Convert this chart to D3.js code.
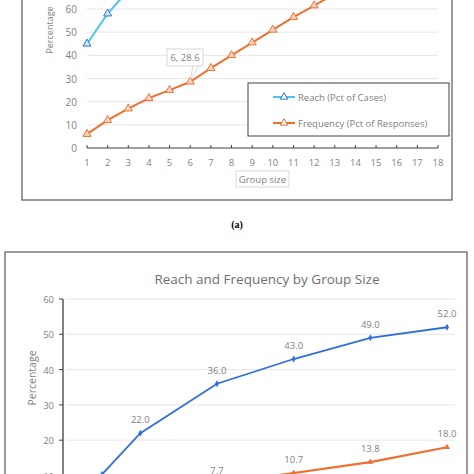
<!DOCTYPE html>
<html><head><meta charset="utf-8">
<script src="https://cdn.jsdelivr.net/npm/d3@7"></script>
<style>body{margin:0;background:#fff}</style>
</head><body><div id="viz"></div>
<script>
// chart (a)
const groupSizes = d3.range(1, 19);
const reachA = [45, 58, 68, 76];
const freqA = [6, 12, 17, 21.5, 25, 28.6, 34.5, 40, 45.5, 51, 56.5, 61.5, 66.5];
const yTicksA = [0, 10, 20, 30, 40, 50, 60];
// chart (b)
const sizesB = [1, 2, 4, 6, 8, 10];
const reachB = [10.3, 22.0, 36.0, 43.0, 49.0, 52.0];
const freqB = [3.5, 5.0, 7.7, 10.7, 13.8, 18.0];
const yTicksB = [10, 20, 30, 40, 50, 60];

const gray = "#7f7f7f", font = "Open Sans, Liberation Sans, sans-serif";
const svg = d3.select("#viz").append("svg").attr("width", 474).attr("height", 474)
  .style("font-family", font);

// ===== (a) =====
const xA = d3.scaleLinear().domain([1, 18]).range([87, 438]);
const yA = d3.scaleLinear().domain([0, 60]).range([148, 9]);
svg.append("rect").attr("x", 22).attr("y", -5).attr("width", 430).attr("height", 205)
  .attr("fill", "none").attr("stroke", "#595959").attr("stroke-width", 1.2);
const gA = svg.append("g");
gA.selectAll(".grid").data(yTicksA.slice(1)).join("line")
  .attr("x1", 87).attr("x2", 438).attr("y1", yA).attr("y2", yA).attr("stroke", "#e6e6e6");
gA.selectAll(".yl").data(yTicksA).join("text").attr("x", 77).attr("y", d => yA(d) + 4)
  .attr("text-anchor", "end").attr("font-size", 10).attr("fill", gray).text(d => d);
gA.append("line").attr("x1", 87).attr("x2", 438).attr("y1", 148).attr("y2", 148).attr("stroke", "#404040");
gA.selectAll(".xt").data(groupSizes).join("line").attr("x1", xA).attr("x2", xA)
  .attr("y1", 145).attr("y2", 148).attr("stroke", "#404040");
gA.selectAll(".xl").data(groupSizes).join("text").attr("x", xA).attr("y", 166)
  .attr("text-anchor", "middle").attr("font-size", 9.5).attr("fill", gray).text(d => d);
gA.append("text").attr("transform", "translate(53,30) rotate(-90)").attr("text-anchor", "middle")
  .attr("font-size", 9).attr("fill", gray).text("Percentage");
gA.append("rect").attr("x", 236).attr("y", 171).attr("width", 53).attr("height", 16)
  .attr("fill", "#fff").attr("stroke", "#d9d9d9");
gA.append("text").attr("x", 262.5).attr("y", 183).attr("text-anchor", "middle")
  .attr("font-size", 9.5).attr("fill", gray).text("Group size");

const clipA = svg.append("clipPath").attr("id", "ca").append("rect")
  .attr("x", 0).attr("y", 0).attr("width", 474).attr("height", 200);
const lineA = d3.line().x((d, i) => xA(i + 1)).y(d => yA(d));
function triangles(g, data, x, y, color, size) {
  g.selectAll(null).data(data).join("path")
    .attr("d", d3.symbol(d3.symbolTriangle, size))
    .attr("transform", (d, i) => `translate(${x(i)},${y(d)})`)
    .attr("fill", "#fdd9c4").attr("stroke", color).attr("stroke-width", 1);
}
const series = gA.append("g").attr("clip-path", "url(#ca)");
series.append("path").attr("d", lineA(reachA)).attr("fill", "none").attr("stroke", "#4fc3f0").attr("stroke-width", 2);
series.append("path").attr("d", lineA(freqA)).attr("fill", "none").attr("stroke", "#ed7031").attr("stroke-width", 2);
series.selectAll(".rm").data(reachA).join("path").attr("d", d3.symbol(d3.symbolTriangle, 28))
  .attr("transform", (d, i) => `translate(${xA(i + 1)},${yA(d)})`)
  .attr("fill", "#cfe6fb").attr("stroke", "#2e75d6");
series.selectAll(".fm").data(freqA).join("path").attr("d", d3.symbol(d3.symbolTriangle, 28))
  .attr("transform", (d, i) => `translate(${xA(i + 1)},${yA(d)})`)
  .attr("fill", "#fbd5bf").attr("stroke", "#ed7031");

// callout 6, 28.6
gA.append("path").attr("d", `M193,66 L${xA(6)},${yA(28.6) - 2} L199,66`).attr("fill", "#fff").attr("stroke", "#d9d9d9");
gA.append("rect").attr("x", 167).attr("y", 49).attr("width", 36).attr("height", 17)
  .attr("fill", "#fff").attr("stroke", "#d9d9d9");
gA.append("text").attr("x", 185).attr("y", 61).attr("text-anchor", "middle")
  .attr("font-size", 9.5).attr("fill", gray).text("6, 28.6");

// legend
gA.append("rect").attr("x", 248).attr("y", 83).attr("width", 201).attr("height", 53)
  .attr("fill", "#fff").attr("stroke", "#404040");
[["Reach (Pct of Cases)", "#4fc3f0", "#2e75d6", 97], ["Frequency (Pct of Responses)", "#ed7031", "#ed7031", 123]]
  .forEach(([t, c, m, y]) => {
    gA.append("line").attr("x1", 273).attr("x2", 295).attr("y1", y).attr("y2", y).attr("stroke", c).attr("stroke-width", 2);
    gA.append("path").attr("d", d3.symbol(d3.symbolTriangle, 24)).attr("transform", `translate(284,${y})`)
      .attr("fill", "#fff").attr("stroke", m);
    gA.append("text").attr("x", 298).attr("y", y + 3.5).attr("font-size", 9.5).attr("fill", gray).text(t);
  });

svg.append("text").attr("x", 237).attr("y", 228).attr("text-anchor", "middle")
  .attr("font-family", "Liberation Serif, serif").attr("font-weight", "bold").attr("font-size", 10).text("(a)");

// ===== (b) =====
const xB = d3.scaleLinear().domain([1, 10]).range([102, 447]);
const yB = d3.scaleLinear().domain([10, 60]).range([475.5, 299]);
svg.append("rect").attr("x", 5).attr("y", 252).attr("width", 462).attr("height", 240)
  .attr("fill", "none").attr("stroke", "#595959").attr("stroke-width", 1.2);
const gB = svg.append("g");
gB.append("text").attr("x", 267).attr("y", 284).attr("text-anchor", "middle")
  .attr("font-size", 13.5).attr("fill", "#6f6f6f").text("Reach and Frequency by Group Size");
gB.selectAll(".gb").data(yTicksB).join("line").attr("x1", 66).attr("x2", 455)
  .attr("y1", yB).attr("y2", yB).attr("stroke", "#e6e6e6");
gB.selectAll(".ylb").data(yTicksB).join("text").attr("x", 54).attr("y", d => yB(d) + 4)
  .attr("text-anchor", "end").attr("font-size", 9.5).attr("fill", gray).text(d => d);
gB.selectAll(".ytb").data(yTicksB).join("line").attr("x1", 59).attr("x2", 63)
  .attr("y1", yB).attr("y2", yB).attr("stroke", "#404040");
gB.append("line").attr("x1", 63).attr("x2", 63).attr("y1", 299).attr("y2", 480).attr("stroke", "#404040").attr("stroke-width", 1.3);
gB.append("text").attr("transform", "translate(36,378) rotate(-90)").attr("text-anchor", "middle")
  .attr("font-size", 10.5).attr("fill", gray).text("Percentage");
const lineB = vals => d3.line().x((d, i) => xB(sizesB[i])).y(d => yB(d))(vals);
gB.append("path").attr("d", lineB(reachB)).attr("fill", "none").attr("stroke", "#2f6fdc").attr("stroke-width", 1.8);
gB.append("path").attr("d", lineB(freqB)).attr("fill", "none").attr("stroke", "#ed7031").attr("stroke-width", 2.2);
gB.selectAll(".rb").data(reachB).join("path").attr("d", d3.symbol(d3.symbolDiamond, 14))
  .attr("transform", (d, i) => `translate(${xB(sizesB[i])},${yB(d)})`).attr("fill", "#2f6fdc");
gB.selectAll(".fb").data(freqB).join("path").attr("d", d3.symbol(d3.symbolTriangle, 16))
  .attr("transform", (d, i) => `translate(${xB(sizesB[i])},${yB(d)})`).attr("fill", "#ed7031");
gB.selectAll(".rlb").data(reachB.slice(1)).join("text")
  .attr("x", (d, i) => xB(sizesB[i + 1])).attr("y", d => yB(d) - 10)
  .attr("text-anchor", "middle").attr("font-size", 9.5).attr("fill", gray).text(d => d.toFixed(1));
gB.selectAll(".flb").data(freqB.slice(2)).join("text")
  .attr("x", (d, i) => xB(sizesB[i + 2])).attr("y", d => yB(d) - 10)
  .attr("text-anchor", "middle").attr("font-size", 9.5).attr("fill", gray).text(d => d.toFixed(1));
</script></body></html>
